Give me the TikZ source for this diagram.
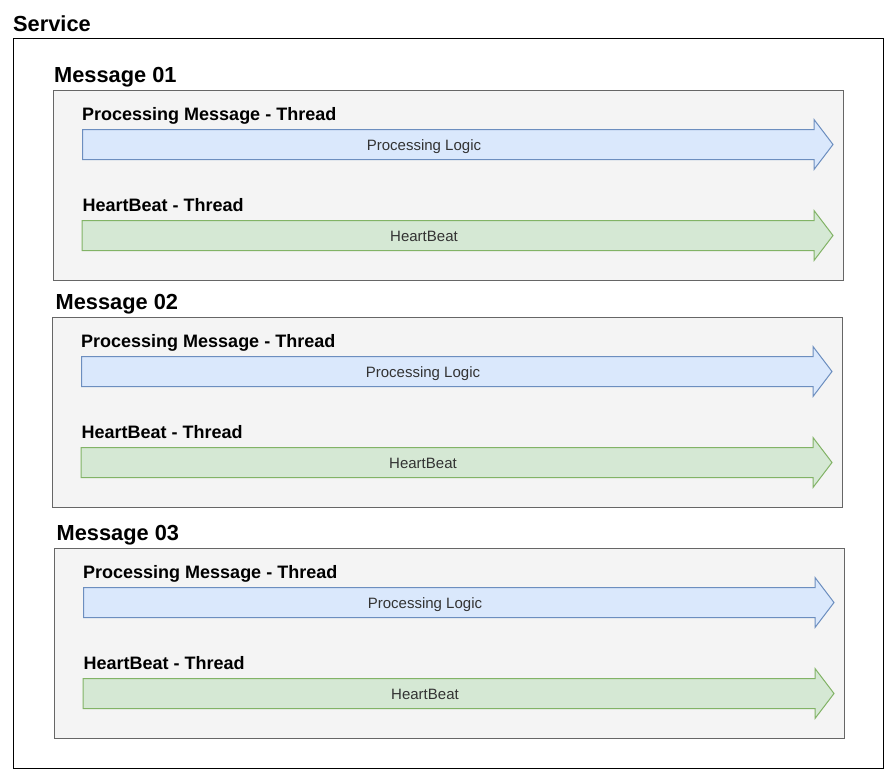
\documentclass[tikz,border=0pt]{standalone}
\usepackage{fontspec}
\setmainfont{Liberation Sans}
\definecolor{blueF}{HTML}{DAE8FC}
\definecolor{blueD}{HTML}{6C8EBF}
\definecolor{greenF}{HTML}{D5E8D4}
\definecolor{greenD}{HTML}{82B366}
\definecolor{grayF}{HTML}{F4F4F4}
\definecolor{grayD}{HTML}{666666}
\definecolor{txt}{HTML}{333333}
\tikzset{
  outerbox/.style={draw=black, line width=1pt},
  grpbox/.style={draw=grayD, fill=grayF, line width=1pt},
  bigtitle/.style={anchor=base west, inner sep=0pt, font=\fontsize{21.8}{24}\selectfont\bfseries},
  thrtitle/.style={anchor=base west, inner sep=0pt, font=\fontsize{18}{20}\selectfont\bfseries},
  arrlabel/.style={anchor=base, inner sep=0pt, text=txt, font=\fontsize{15}{17}\selectfont},
  blueArrow/.style={draw=blueD, fill=blueF, line width=1pt, line join=miter},
  greenArrow/.style={draw=greenD, fill=greenF, line width=1pt, line join=miter},
}
% #1 style, #2 left x, #3 tip x, #4 centre y
\newcommand\fatarrow[4]{%
  \draw[#1] (#2,#4-15) -- (#3-19,#4-15) -- (#3-19,#4-25) -- (#3,#4)
    -- (#3-19,#4+25) -- (#3-19,#4+15) -- (#2,#4+15) -- cycle;}
\begin{document}
\begin{tikzpicture}[x=1pt,y=-1pt]
\useasboundingbox (0,0) rectangle (894,779);
% outer service box
\node[bigtitle] (service) at (13,31) {Service};
\draw[outerbox] (13.5,38.5) rectangle (883.5,768.5);

% Message 01
\node[bigtitle] (m1title) at (54,82) {Message 01};
\draw[grpbox] (53.5,90.5) rectangle (843.5,280.5);
\node[thrtitle] (m1pt) at (82,120) {Processing Message - Thread};
\fatarrow{blueArrow}{82.5}{833}{144.5}
\node[arrlabel] (m1pl) at (424,150) {Processing Logic};
\node[thrtitle] (m1ht) at (82.5,211) {HeartBeat - Thread};
\fatarrow{greenArrow}{82}{833}{235.5}
\node[arrlabel] (m1hl) at (424,241) {HeartBeat};

% Message 02
\node[bigtitle] (m2title) at (55.5,309.5) {Message 02};
\draw[grpbox] (52.5,317.5) rectangle (842.5,507.5);
\node[thrtitle] (m2pt) at (81,347) {Processing Message - Thread};
\fatarrow{blueArrow}{81.5}{832}{371.5}
\node[arrlabel] (m2pl) at (423,377) {Processing Logic};
\node[thrtitle] (m2ht) at (81.5,438) {HeartBeat - Thread};
\fatarrow{greenArrow}{81}{832}{462.5}
\node[arrlabel] (m2hl) at (423,468) {HeartBeat};

% Message 03
\node[bigtitle] (m3title) at (56.5,540) {Message 03};
\draw[grpbox] (54.5,548.5) rectangle (844.5,738.5);
\node[thrtitle] (m3pt) at (83,578) {Processing Message - Thread};
\fatarrow{blueArrow}{83.5}{834}{602.5}
\node[arrlabel] (m3pl) at (425,608) {Processing Logic};
\node[thrtitle] (m3ht) at (83.5,669) {HeartBeat - Thread};
\fatarrow{greenArrow}{83}{834}{693.5}
\node[arrlabel] (m3hl) at (425,699) {HeartBeat};
\end{tikzpicture}
\end{document}
